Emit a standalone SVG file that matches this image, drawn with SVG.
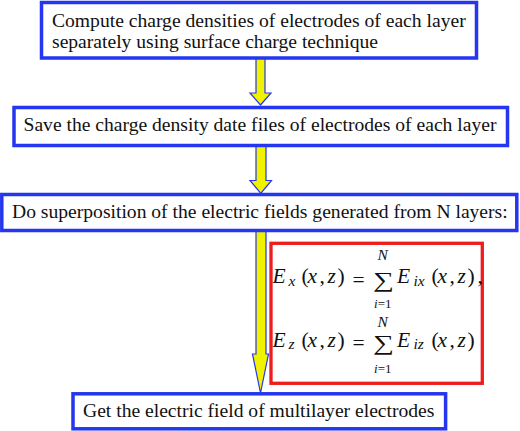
<svg xmlns="http://www.w3.org/2000/svg" width="520" height="431" viewBox="0 0 520 431">
<style>
.box{fill:#ffffff;stroke:#2436f0;stroke-width:3.5}
.red{fill:none;stroke:#ee1c1c;stroke-width:3.3}
.arr{fill:#f0f200;stroke:#2436f0;stroke-width:1.2;stroke-linejoin:miter}
.t{font-size:19.6px;fill:#111111}
.m{font-size:21.5px;fill:#111111}
.i{font-style:italic}
.s{font-size:15.5px}
.l{font-size:13px}
</style>
<rect x="0" y="0" width="520" height="431" fill="#ffffff"/>
<g id="connectors">
<polygon class="arr" points="256,58 265,58 265,93 271,93 260.5,105 250,93 256,93"/>
<polygon class="arr" points="256,146 266,146 266,180.5 271.5,180.5 260.8,193.3 250,180.5 256,180.5"/>
<polygon class="arr" points="256,231 266,231 266,354 268.5,354 260.5,393 252.5,354 256,354"/>
</g>
<g font-family="Liberation Serif, Times New Roman, DejaVu Serif, serif">
<g id="node1">
<rect class="box" x="41.5" y="2.5" width="435" height="55.5"/>
<text class="t" x="52" y="27">Compute charge densities of electrodes of each layer</text>
<text class="t" x="52" y="48.3">separately using surface charge technique</text>
</g>
<g id="node2">
<rect class="box" x="14" y="107.5" width="493.5" height="38"/>
<text class="t" x="23.5" y="130.7">Save the charge density date files of electrodes of each layer</text>
</g>
<g id="node3">
<rect class="box" x="1.8" y="194.5" width="515" height="36"/>
<text class="t" x="12" y="218.3">Do superposition of the electric fields generated from N layers:</text>
</g>
<g id="formula">
<rect class="red" x="271" y="243.3" width="211.3" height="140"/>
<text class="m" y="283.3"><tspan class="i" x="272.5">E</tspan><tspan class="i s" x="288.5" y="285.5">x</tspan><tspan x="301.5" y="283.3">(</tspan><tspan class="i" x="307.5">x</tspan><tspan x="319.5">,</tspan><tspan class="i" x="327.5">z</tspan><tspan x="337.5">)</tspan></text>
<text class="m" x="352.5" y="287" font-size="25">=</text>
<text class="m" x="373" y="286.5" font-size="25" textLength="21" lengthAdjust="spacingAndGlyphs">∑</text>
<text class="m i s" x="377.5" y="260">N</text>
<text class="m l" x="374" y="308"><tspan class="i">i</tspan>=1</text>
<text class="m" y="283.3"><tspan class="i" x="397">E</tspan><tspan class="i s" x="413.5" y="285.5">ix</tspan><tspan x="431.5" y="283.3">(</tspan><tspan class="i" x="437.5">x</tspan><tspan x="449.5">,</tspan><tspan class="i" x="457.5">z</tspan><tspan x="467.5">)</tspan><tspan x="477.5">,</tspan></text>
<text class="m" y="346.7"><tspan class="i" x="272.5">E</tspan><tspan class="i s" x="288.5" y="348.7">z</tspan><tspan x="301.5" y="346.7">(</tspan><tspan class="i" x="307.5">x</tspan><tspan x="319.5">,</tspan><tspan class="i" x="327.5">z</tspan><tspan x="337.5">)</tspan></text>
<text class="m" x="352.5" y="350.4" font-size="25">=</text>
<text class="m" x="373" y="349.9" font-size="25" textLength="21" lengthAdjust="spacingAndGlyphs">∑</text>
<text class="m i s" x="377.5" y="327">N</text>
<text class="m l" x="374" y="373"><tspan class="i">i</tspan>=1</text>
<text class="m" y="346.7"><tspan class="i" x="397">E</tspan><tspan class="i s" x="413.5" y="348.7">iz</tspan><tspan x="431.5" y="346.7">(</tspan><tspan class="i" x="437.5">x</tspan><tspan x="449.5">,</tspan><tspan class="i" x="457.5">z</tspan><tspan x="467.5">)</tspan></text>
</g>
<g id="node4">
<rect class="box" x="73" y="393.8" width="372.6" height="35"/>
<text class="t" x="83" y="416.7">Get the electric field of multilayer electrodes</text>
</g>
</g>
</svg>
